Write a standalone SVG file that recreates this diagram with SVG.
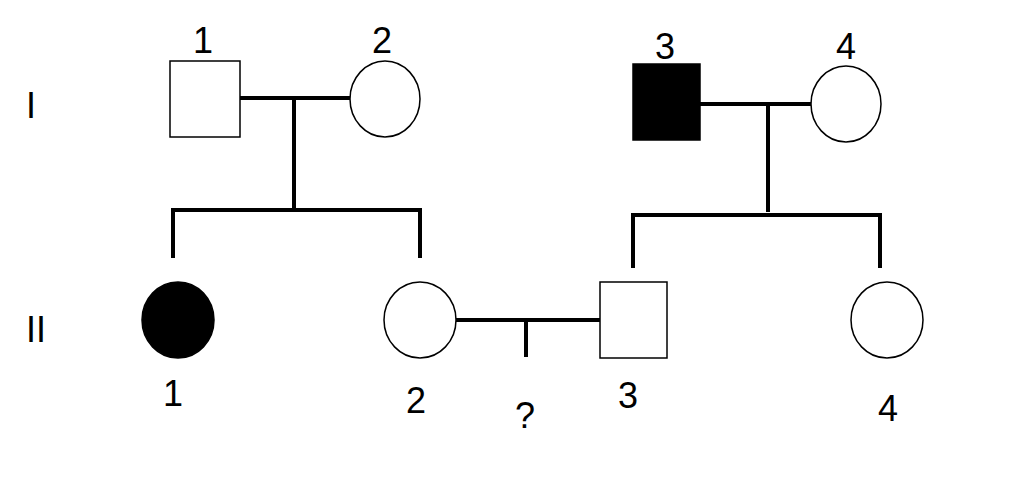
<svg xmlns="http://www.w3.org/2000/svg" width="1024" height="478" viewBox="0 0 1024 478">
<style>
.t{font-family:"Liberation Sans",Arial,sans-serif;font-size:36px;text-anchor:middle;fill:#000}
.s{fill:#fff;stroke:#000;stroke-width:1.5}
.f{fill:#000;stroke:#000;stroke-width:1.5}
.l{stroke:#000;stroke-width:4;fill:none}
</style>
<rect width="1024" height="478" fill="#fff"/>
<text class="t" x="31" y="118">I</text>
<text class="t" x="36" y="342">II</text>
<g id="connectors">
<path class="l" d="M240 98H350M294 98V210M171 210H422M173 208V258M420 208V258"/>
<path class="l" d="M700 104H811M768 104V212M631 215H882M633 213V268M880 213V268"/>
<path class="l" d="M456 320H600M526 320V357"/>
</g>
<g id="I-1"><rect class="s" x="170" y="61" width="70" height="76"/><text class="t" x="203" y="53">1</text></g>
<g id="I-2"><ellipse class="s" cx="385" cy="99" rx="35" ry="38"/><text class="t" x="382" y="53">2</text></g>
<g id="I-3"><rect class="f" x="633" y="64" width="67" height="76"/><text class="t" x="665" y="59">3</text></g>
<g id="I-4"><ellipse class="s" cx="846" cy="104" rx="35" ry="38"/><text class="t" x="846" y="59">4</text></g>
<g id="II-1"><ellipse class="f" cx="178" cy="320" rx="36" ry="38"/><text class="t" x="173" y="406">1</text></g>
<g id="II-2"><ellipse class="s" cx="420" cy="320" rx="36" ry="38"/><text class="t" x="416" y="413">2</text></g>
<g id="II-3"><rect class="s" x="600" y="282" width="67" height="76"/><text class="t" x="628" y="408">3</text></g>
<g id="II-4"><ellipse class="s" cx="887" cy="320" rx="36" ry="38"/><text class="t" x="888" y="421">4</text></g>
<g id="child"><text class="t" x="525" y="428">?</text></g>
</svg>
